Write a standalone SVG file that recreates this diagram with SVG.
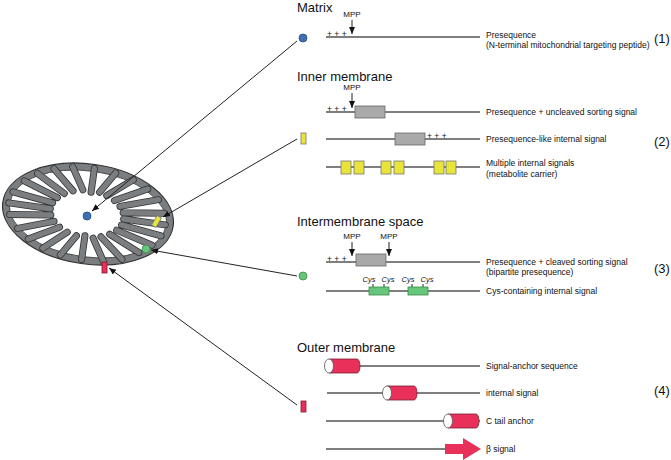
<svg xmlns="http://www.w3.org/2000/svg" width="671" height="460" viewBox="0 0 671 460">
<style>
text{font-family:"Liberation Sans",Arial,sans-serif;fill:#111}
.t{font-size:13px}
.s{font-size:8.5px}
.m{font-size:8px}
.c{font-size:7.5px;font-style:italic}
.ln{stroke:#555;stroke-width:1.3;fill:none}
.ar{stroke:#222;stroke-width:1;fill:none;marker-end:url(#ah)}
.gb{fill:#a9a9a9;stroke:#666;stroke-width:0.8}
.yb{fill:#e8e43a;stroke:#777;stroke-width:0.8}
.gr{fill:#66c67a;stroke:#3a8a4a;stroke-width:0.8}
.rd{fill:#e8305a;stroke:#7a2030;stroke-width:0.8}
.cr1{stroke:#333;stroke-width:7;stroke-linecap:round}
.cr2{stroke:#7b7e80;stroke-width:5.4;stroke-linecap:round}
</style>
<defs>
<marker id="ah" markerWidth="8" markerHeight="8" refX="7" refY="4" orient="auto" markerUnits="userSpaceOnUse"><path d="M0,1 L7,4 L0,7 Z" fill="#111"/></marker>
<g id="fing">
<path d="M166,214L124,214M163.4,225.4L122.6,220.2M155.8,236L118.6,226M143.7,245.1L112.3,231M128,254.1L104,234.8M109.7,258.5L96.4,237.2M88,260L88,236M66.3,258.5L79.6,237.2M48,254.1L70,234.8M32.3,247.1L61.7,231M20.2,238L55.4,226M10.6,225.4L51.4,220.2M8,214L50,214M10.6,202.6L51.4,207.8M20.2,190L55.4,202M32.3,180.9L61.7,197M48,173.9L70,193.2M66.3,169.5L79.6,190.8M88,168L88,192M109.7,169.5L96.4,190.8M128,173.9L104,193.2M143.7,180.9L112.3,197M155.8,190L118.6,202M163.4,202.6L122.6,207.8"/>
</g>
</defs>
<g id="mitochondrion" transform="rotate(8 88 214)">
<ellipse cx="88" cy="214" rx="86" ry="50" fill="#7b7e80" stroke="#333" stroke-width="1.2"/>
<ellipse cx="88" cy="214" rx="79" ry="43" fill="#fff" stroke="#333" stroke-width="0.8"/>
<use href="#fing" class="cr1"/>
<use href="#fing" class="cr2"/>
</g>
<g id="mito-markers">
<circle cx="87" cy="216" r="4" fill="#3f6fb5" stroke="#244a80" stroke-width="0.8"/>
<rect x="154" y="216" width="5" height="11" class="yb" transform="rotate(30 156.5 221.5)"/>
<circle cx="146" cy="249" r="4" class="gr"/>
<rect x="102" y="262" width="5" height="11" class="rd"/>
</g>
<g id="connectors">
<line x1="297" y1="41" x2="92" y2="211" class="ar"/>
<line x1="297" y1="139" x2="163" y2="217" class="ar"/>
<line x1="297" y1="276" x2="151" y2="250" class="ar"/>
<line x1="297" y1="405" x2="109" y2="268" class="ar"/>
</g>
<g id="matrix">
<text x="297" y="12" class="t">Matrix</text>
<circle cx="303" cy="38" r="4" fill="#3f6fb5" stroke="#244a80" stroke-width="0.8"/>
<text x="352" y="17" class="m" text-anchor="middle">MPP</text>
<line x1="352" y1="20" x2="352" y2="34" class="ar"/>
<text x="327" y="37" class="s">+ + +</text>
<line x1="326" y1="37" x2="480" y2="37" class="ln"/>
<text x="486" y="38" class="s">Presequence</text>
<text x="486" y="48" class="s">(N-terminal mitochondrial targeting peptide)</text>
<text x="654" y="43" class="t">(1)</text>
</g>
<g id="inner-membrane">
<text x="297" y="81" class="t">Inner membrane</text>
<rect x="301" y="133" width="5" height="11" class="yb"/>
<text x="352" y="90" class="m" text-anchor="middle">MPP</text>
<line x1="352" y1="93" x2="352" y2="108" class="ar"/>
<line x1="326" y1="112" x2="480" y2="112" class="ln"/>
<text x="327" y="112" class="s">+ + +</text>
<rect x="355" y="106" width="30" height="12" class="gb"/>
<text x="486" y="115" class="s">Presequence + uncleaved sorting signal</text>
<line x1="326" y1="139" x2="480" y2="139" class="ln"/>
<rect x="395" y="133" width="30" height="12" class="gb"/>
<text x="427" y="139" class="s">+ + +</text>
<text x="486" y="142" class="s">Presequence-like internal signal</text>
<text x="654" y="146" class="t">(2)</text>
<line x1="326" y1="167" x2="480" y2="167" class="ln"/>
<rect x="341" y="161" width="10" height="13" class="yb"/>
<rect x="354" y="161" width="10" height="13" class="yb"/>
<rect x="381" y="161" width="10" height="13" class="yb"/>
<rect x="394" y="161" width="10" height="13" class="yb"/>
<rect x="434" y="161" width="10" height="13" class="yb"/>
<rect x="446" y="161" width="10" height="13" class="yb"/>
<text x="486" y="166" class="s">Multiple internal signals</text>
<text x="486" y="177" class="s">(metabolite carrier)</text>
</g>
<g id="intermembrane-space">
<text x="297" y="226" class="t">Intermembrane space</text>
<circle cx="303" cy="276" r="4" class="gr"/>
<text x="352" y="239" class="m" text-anchor="middle">MPP</text>
<line x1="352" y1="242" x2="352" y2="256" class="ar"/>
<text x="389" y="239" class="m" text-anchor="middle">MPP</text>
<line x1="389" y1="242" x2="389" y2="256" class="ar"/>
<line x1="326" y1="262" x2="480" y2="262" class="ln"/>
<text x="327" y="262" class="s">+ + +</text>
<rect x="356" y="254" width="30" height="12" class="gb"/>
<text x="486" y="265" class="s">Presequence + cleaved sorting signal</text>
<text x="486" y="275" class="s">(bipartite presequence)</text>
<text x="654" y="273" class="t">(3)</text>
<line x1="326" y1="291" x2="480" y2="291" class="ln"/>
<line x1="373" y1="284" x2="373" y2="287" class="ln"/><line x1="384" y1="284" x2="384" y2="287" class="ln"/>
<line x1="412" y1="284" x2="412" y2="287" class="ln"/><line x1="423" y1="284" x2="423" y2="287" class="ln"/>
<rect x="369" y="287" width="20" height="8" class="gr"/>
<rect x="408" y="287" width="20" height="8" class="gr"/>
<text x="369" y="282" class="c" text-anchor="middle">Cys</text>
<text x="388" y="282" class="c" text-anchor="middle">Cys</text>
<text x="408" y="282" class="c" text-anchor="middle">Cys</text>
<text x="427" y="282" class="c" text-anchor="middle">Cys</text>
<text x="486" y="294" class="s">Cys-containing internal signal</text>
</g>
<g id="outer-membrane">
<text x="297" y="352" class="t">Outer membrane</text>
<rect x="301" y="401" width="5" height="11" class="rd"/>
<text x="654" y="395" class="t">(4)</text>
<line x1="326" y1="366" x2="480" y2="366" class="ln"/>
<path d="M329,359H357A3,7 0 0 1 357,373H329Z" class="rd"/>
<ellipse cx="329" cy="366" rx="4.5" ry="7" fill="#fff" stroke="#555" stroke-width="0.8"/>
<text x="486" y="369" class="s">Signal-anchor sequence</text>
<line x1="327" y1="393" x2="480" y2="393" class="ln"/>
<path d="M387,386H414A3,7 0 0 1 414,400H387Z" class="rd"/>
<ellipse cx="387" cy="393" rx="4.5" ry="7" fill="#fff" stroke="#555" stroke-width="0.8"/>
<text x="486" y="396" class="s">internal signal</text>
<line x1="326" y1="421" x2="480" y2="421" class="ln"/>
<path d="M448,414H476A3,7 0 0 1 476,428H448Z" class="rd"/>
<ellipse cx="448" cy="421" rx="4.5" ry="7" fill="#fff" stroke="#555" stroke-width="0.8"/>
<text x="486" y="424" class="s">C tail anchor</text>
<line x1="326" y1="449" x2="446" y2="449" class="ln"/>
<polygon points="445,444 463,444 463,438 481,449 463,460 463,454 445,454" fill="#e8305a"/>
<text x="486" y="452" class="s">β signal</text>
</g>
</svg>
